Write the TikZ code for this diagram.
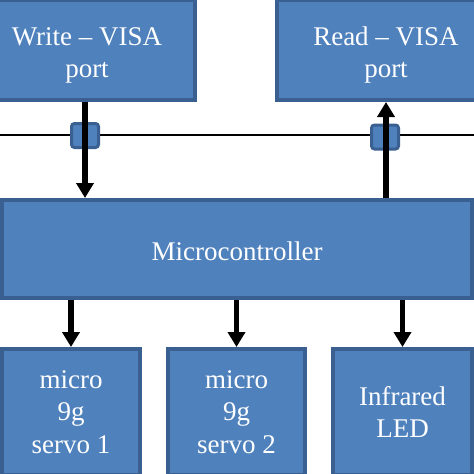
\documentclass[tikz,border=0pt]{standalone}
\usepackage{fontspec}
\setmainfont{Liberation Serif}
\usetikzlibrary{arrows.meta}
\definecolor{boxfill}{RGB}{79,129,189}
\definecolor{boxedge}{RGB}{58,96,145}
\begin{document}
\begin{tikzpicture}[x=1pt,y=-1pt,
  blk/.style={draw=boxedge,fill=boxfill,line width=4pt,text=white,align=center,
    inner sep=0pt,font=\fontsize{27}{32.5}\selectfont},
  port/.style={draw=boxedge,fill=boxfill,line width=3pt,rounded corners=3pt,
    minimum width=27pt,minimum height=24pt,inner sep=0pt},
  flow/.style={line width=5.2pt,-{Triangle[width=17pt,length=15pt]}},
  bus/.style={line width=1.8pt}]
\useasboundingbox (0,0) rectangle (474,474);
\clip (0,0) rectangle (474,474);
\node[blk,minimum width=216pt,minimum height=100pt,text height=61pt,text depth=6pt] (write) at (87,50) {Write – VISA\\port};
\node[blk,minimum width=218pt,minimum height=100pt,text height=61pt,text depth=6pt] (read) at (386,50) {Read – VISA\\port};
\node[blk,minimum width=470pt,minimum height=98pt,text height=22.5pt,text depth=0pt] (micro) at (237,249) {Microcontroller};
\node[blk,minimum width=138pt,minimum height=126pt] (s1) at (71,412) {micro\\9g\\servo 1};
\node[blk,minimum width=137pt,minimum height=126pt] (s2) at (236.5,412) {micro\\9g\\servo 2};
\node[blk,minimum width=139pt,minimum height=126pt] (led) at (402.5,412) {Infrared\\LED};
\coordinate (busL) at (-5,135);
\coordinate (busR) at (480,135);
\draw[bus] (busL) -- (busR);
\node[port] (p1) at (85,135.5) {};
\node[port] (p2) at (385,137) {};
\draw[flow] (write.south -| p1) -- (micro.north -| p1);
\draw[flow] (micro.north -| read) -- (read.south);
\draw[flow] (micro.south -| s1) -- (s1.north);
\draw[flow] (micro.south -| s2) -- (s2.north);
\draw[flow] (micro.south -| led) -- (led.north);
\end{tikzpicture}
\end{document}
